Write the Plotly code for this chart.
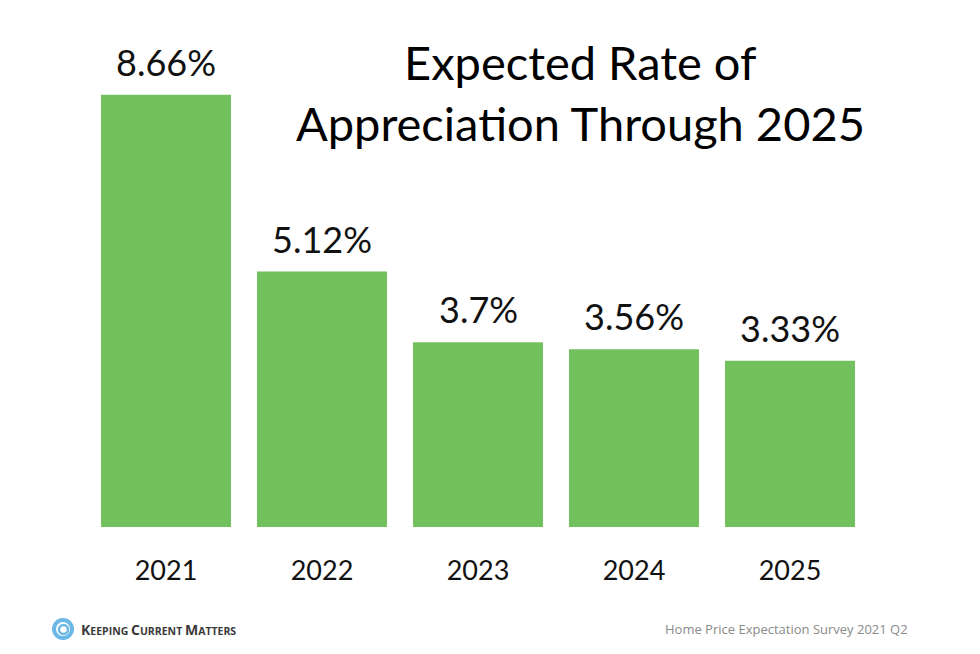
import plotly.graph_objects as go

years = ["2021", "2022", "2023", "2024", "2025"]
rates = [8.66, 5.12, 3.7, 3.56, 3.33]
rate_labels = ["8.66%", "5.12%", "3.7%", "3.56%", "3.33%"]
title_lines = ["Expected Rate of", "Appreciation Through 2025"]
source_text = "Home Price Expectation Survey 2021 Q2"
brand = "<span style='font-size:14px'>K</span>EEPING <span style='font-size:14px'>C</span>URRENT <span style='font-size:14px'>M</span>ATTERS"

W, H = 980, 654
L, R, T, B = 88, 868, 28, 527

def px(x):
    return (x - L) / (R - L)

def py(y):
    return (B - y) / (B - T)

FONT = "Lato, 'Open Sans', sans-serif"

fig = go.Figure(go.Bar(
    x=years, y=rates,
    marker=dict(color="#73C05E", line=dict(width=0)),
    hoverinfo="skip",
))

annotations = []
for i, (v, lab) in enumerate(zip(rates, rate_labels)):
    annotations.append(dict(x=i, y=v, xref="x", yref="y", text=lab, showarrow=False,
                            yanchor="bottom", yshift=9,
                            font=dict(family=FONT, size=36, color="#111")))

annotations.append(dict(x=px(580), y=py(62), xref="paper", yref="paper", text=title_lines[0],
                        showarrow=False, xanchor="center", yanchor="middle",
                        font=dict(family=FONT, size=47, color="#000")))
annotations.append(dict(x=px(580), y=py(123), xref="paper", yref="paper", text=title_lines[1],
                        showarrow=False, xanchor="center", yanchor="middle",
                        font=dict(family=FONT, size=47, color="#000")))
annotations.append(dict(x=px(910), y=py(629), xref="paper", yref="paper", text=source_text,
                        showarrow=False, xanchor="right", yanchor="middle",
                        font=dict(family="'Open Sans', sans-serif", size=13, color="#8a8a8a")))
annotations.append(dict(x=px(79), y=py(629), xref="paper", yref="paper", text=brand,
                        showarrow=False, xanchor="left", yanchor="middle",
                        font=dict(family="'Open Sans', sans-serif", size=10.5, color="#3a3a3a", weight="bold")))

shapes = [
    dict(type="circle", xref="paper", yref="paper",
         x0=px(52), x1=px(74), y0=py(640), y1=py(618),
         fillcolor="#6BB8E6", line=dict(width=0)),
    dict(type="circle", xref="paper", yref="paper",
         x0=px(56), x1=px(70), y0=py(636), y1=py(622),
         fillcolor="white", line=dict(width=0)),
    dict(type="circle", xref="paper", yref="paper",
         x0=px(59), x1=px(68), y0=py(634), y1=py(625),
         fillcolor="white", line=dict(color="#6BB8E6", width=2.5)),
]

fig.update_layout(
    width=W, height=H,
    margin=dict(l=L, r=W - R, t=T, b=H - B),
    paper_bgcolor="white", plot_bgcolor="white",
    bargap=1 - 130 / 156,
    showlegend=False,
    xaxis=dict(type="category", range=[-0.5, len(years) - 0.5], showgrid=False, showline=False,
               zeroline=False, ticks="", fixedrange=True,
               tickfont=dict(family=FONT, size=27, color="#111"), ticklabelstandoff=25),
    yaxis=dict(range=[0, 10], visible=False, fixedrange=True),
    annotations=annotations,
    shapes=shapes,
)

fig.write_html("out.html", config={"displayModeBar": False})
